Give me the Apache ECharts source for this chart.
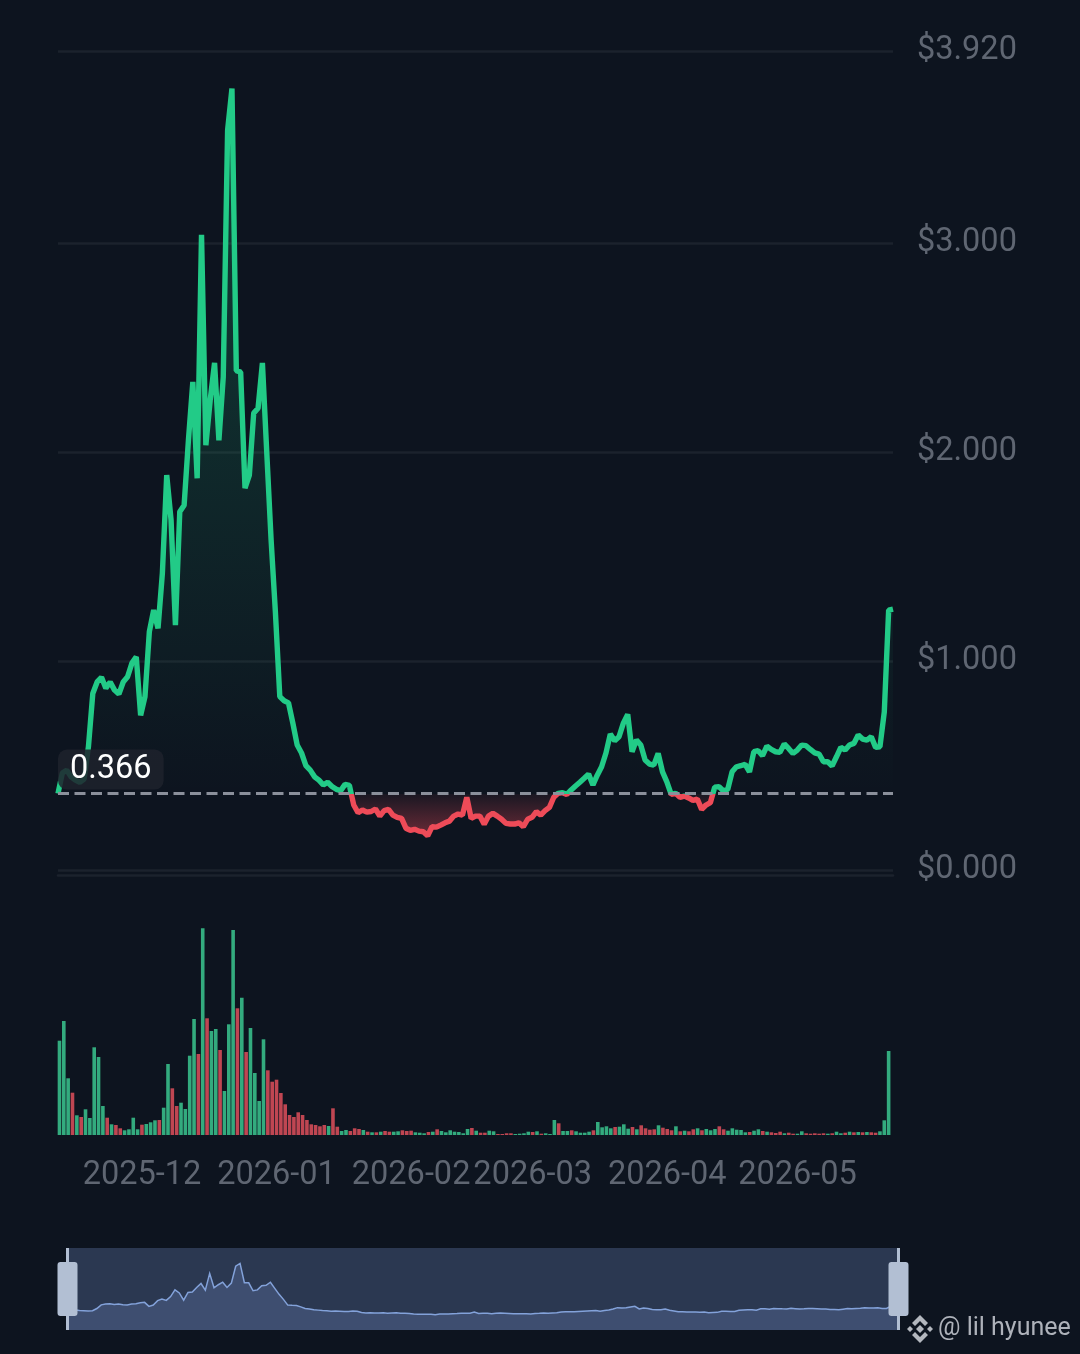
<!DOCTYPE html>
<html><head><meta charset="utf-8">
<style>html,body{margin:0;padding:0;background:#0d141f}#c{width:1080px;height:1354px}</style>
<script src="https://cdn.jsdelivr.net/npm/echarts@6/dist/echarts.min.js"></script>
</head><body><div id="c"></div>
<script>
const prices = [
.366,.464,.478,.446,.43,.42,.435,.59,.845,.90,
.922,.87,.90,.861,.842,.90,.925,.99,1.02,.74,
.83,1.14,1.244,1.157,1.42,1.89,1.675,1.172,1.715,1.746,
2.06,2.336,1.875,3.04,2.033,2.25,2.427,2.057,2.36,3.54,
3.74,2.39,2.383,1.828,1.89,2.187,2.21,2.427,2.0,1.58,
1.23,.83,.81,.80,.703,.598,.56,.50,.478,.446,
.43,.407,.42,.40,.386,.38,.41,.405,.311,.274,
.287,.277,.28,.292,.258,.284,.29,.263,.252,.247,
.2,.19,.195,.186,.183,.164,.207,.205,.215,.226,
.234,.258,.268,.263,.348,.247,.258,.258,.219,.258,
.271,.258,.243,.223,.22,.22,.226,.207,.243,.252,
.279,.263,.284,.30,.348,.367,.37,.362,.383,.402,
.42,.439,.459,.407,.454,.494,.56,.651,.619,.638,
.703,.745,.566,.622,.598,.526,.507,.502,.558,.47,
.422,.362,.367,.348,.354,.345,.333,.34,.29,.311,
.322,.396,.399,.378,.386,.47,.494,.499,.506,.47,
.566,.571,.547,.593,.577,.566,.563,.603,.582,.558,
.574,.598,.595,.577,.561,.555,.518,.518,.498,.542,
.587,.574,.598,.606,.646,.627,.622,.638,.587,.59,
.757,1.244,1.249];
const volumes = [
94.3,114,56.7,42.3,19.7,18,25.7,17,87.7,78,
29,17.3,10.7,10,6.7,4.7,5.7,17.3,5.7,10.3,
11,12.7,14.7,15,27.3,71,46.7,29,32.3,26,
79.3,116,81,206.7,116.7,104,106,85,44,110.7,
205,126.7,137.3,83,107,62,34,95.7,64.7,53.3,
55.3,42,30.7,20,18,22.7,20,15,10.7,10,
8.7,10,9,26.7,8.3,4,5,4,6.7,6,
5,3.3,2.7,2.7,3.3,4,3.3,3.3,3.7,4.7,
4,4.3,2.7,2.3,1.7,3,3.3,5.7,4,2.7,
4.7,3.3,3,1.7,6,7,4.3,2.3,2.3,4.3,
3.7,1,1,1.7,1.7,1,1.3,1.7,3.3,3,
3.7,1.3,1.7,1,15,11.7,4,4,4.7,3.7,
2.3,2.3,3.3,4.7,13,7.7,8.7,6.7,8,8.3,
10.7,6.3,8,5.7,9.7,6.7,5.3,5.7,9.7,7.3,
6,4.7,8.7,3.7,4.3,3.7,5.7,6.7,4.7,6,
4.7,6,8.7,5.7,4.3,6.7,5.3,5,2.7,3,
4.3,5.7,4,3.3,2.7,2,3.3,1.7,2.3,1.3,
1.3,3.7,1.7,1.3,1.7,1.3,1.7,1.3,1.7,3.3,
1.7,2.3,3.3,2.7,3,2.7,3,2.7,2.3,3.7,
14.7,84];
const volumeSides = (
"GGGRGRGGGG"+"GRGRRGGGGR"+"GGGRGGRRGG"+"GGRGRGGRGG"+
"GRGRGGGGRR"+"RRRRRRRRRR"+"RRGRRGGRRR"+"GRGRGRRGGR"+
"RRGGGRGRGG"+"GGGGGRGRRG"+"GRRRRGGGGR"+"GRGGGRGGRG"+
"GGGRGGGGRG"+"GGRGRRRRGR"+"RRGRGRRGRG"+"GGRRGGGGGR"+
"GGRGRRRGRR"+"GGRRRRRGRG"+"GRGRGRGRRG"+"GG").split("");
const baseline = 0.366;
const firstDay = Date.UTC(2025, 10, 12);
const dates = prices.map((_, i) => new Date(firstDay + i * 86400000).toISOString().slice(0, 10));

const UP = '#22cb87', DOWN = '#ee4b58', BG = '#0d141f', GRID = '#1b222d', MUTED = '#5f6672';
const handle = 'path://M3 14H17A3 3 0 0 1 20 17V65A3 3 0 0 1 17 68H11.5V82H8.5V68H3A3 3 0 0 1 0 65V17A3 3 0 0 1 3 14ZM8.5 14V0H11.5V14Z';
const logoParts = [
  [[15,1],[23,9],[20,12],[15,7],[10,12],[7,9]],
  [[15,29],[23,21],[20,18],[15,23],[10,18],[7,21]],
  [[15,11],[19,15],[15,19],[11,15]],
  [[5,12],[8,15],[5,18],[2,15]],
  [[25,12],[28,15],[25,18],[22,15]]
];

const chart = echarts.init(document.getElementById('c'));
chart.setOption({
  animation: false,
  backgroundColor: BG,
  textStyle: { fontFamily: 'Roboto' },
  grid: [
    { left: 58, width: 835, top: 51, height: 819 },
    { left: 57.3, width: 833.5, top: 928, height: 207 }
  ],
  xAxis: [
    { gridIndex: 0, type: 'category', data: dates, boundaryGap: false, offset: 5,
      axisLine: { show: true, onZero: false, lineStyle: { color: GRID, width: 2.5 } },
      axisTick: { show: false }, axisLabel: { show: false }, splitLine: { show: false } },
    { gridIndex: 1, type: 'category', data: dates.slice(0, volumes.length), boundaryGap: true,
      axisLine: { show: false }, axisTick: { show: false }, splitLine: { show: false },
      axisLabel: { color: MUTED, fontSize: 32.5, fontFamily: 'Roboto', margin: 24, hideOverlap: false,
        interval: (i, v) => v.endsWith('-01'), formatter: v => v.slice(0, 7) } }
  ],
  yAxis: [
    { gridIndex: 0, type: 'value', position: 'right', min: 0, max: 3.92, interval: 1,
      axisLine: { show: false }, axisTick: { show: false },
      splitLine: { show: true, lineStyle: { color: GRID, width: 2.5 } },
      axisLabel: { color: MUTED, fontSize: 32.5, fontFamily: 'Roboto', margin: 24, align: 'left',
        padding: [0, 0, 8, 0], formatter: v => '$' + v.toFixed(3) } },
    { gridIndex: 1, type: 'value', min: 0, max: 207, show: false }
  ],
  dataZoom: [{
    type: 'slider', xAxisIndex: [0, 1], start: 0, end: 100, left: 64, width: 833, top: 1248, height: 82,
    backgroundColor: '#2b3851', borderColor: 'transparent', fillerColor: 'rgba(0,0,0,0)',
    showDetail: false, showDataShadow: true, moveHandleSize: 0, brushSelect: false,
    handleIcon: handle, handleSize: 82, handleStyle: { color: '#b2bfd3', borderWidth: 0 },
    dataBackground: { lineStyle: { color: '#83a2da', width: 1.5, opacity: 1 }, areaStyle: { color: '#3e4e70', opacity: 1 } },
    selectedDataBackground: { lineStyle: { color: '#83a2da', width: 1.5, opacity: 1 }, areaStyle: { color: '#3e4e70', opacity: 1 } }
  }],
  series: [
    { id: 'price', type: 'line', xAxisIndex: 0, yAxisIndex: 0, data: prices, showSymbol: false, symbol: 'none',
      lineStyle: { width: 5.4, join: 'bevel', color: UP }, itemStyle: { color: UP }, clip: false,
      areaStyle: { origin: baseline, opacity: 1, color: 'rgba(34,203,135,0.12)' },
      markLine: { silent: true, symbol: 'none', animation: false, precision: 3,
        lineStyle: { color: '#8b909b', type: [11, 5.5], width: 2.8 },
        label: { show: true, position: 'insideStartTop', distance: [0, 4], formatter: '{c}', color: '#ffffff',
          fontSize: 32.5, fontFamily: 'Roboto', backgroundColor: 'rgba(30,34,45,0.85)', borderRadius: 9,
          padding: [3, 12, 3, 12], lineHeight: 34 },
        data: [{ yAxis: baseline }] } },
    { type: 'bar', xAxisIndex: 1, yAxisIndex: 1, barWidth: 3.6,
      data: volumes.map((v, i) => ({ value: v, itemStyle: { color: volumeSides[i] === 'G' ? '#33ab7e' : '#bf4652' } })) }
  ],
  graphic: [
    { type: 'group', x: 905, y: 1314, children: logoParts.map(points => ({
      type: 'polygon', shape: { points }, style: { fill: '#b4b8bf' } })) },
    { type: 'text', x: 938, y: 1316, style: { text: '@ lil hyunee', fill: '#aeb2ba', fontSize: 25, fontFamily: 'Roboto' } }
  ]
});

// Colour the line and the area either side of the baseline, placed through the chart's own y scale.
const toY = v => chart.convertToPixel({ yAxisIndex: 0 }, v);
const yBase = toY(baseline), yTop = toY(Math.max(...prices)), yLow = toY(Math.min(...prices));
const split = (yBase - yTop) / (yLow - yTop);
chart.setOption({ series: [{ id: 'price',
  lineStyle: { color: { type: 'linear', global: true, x: 0, y: yBase - 1, x2: 0, y2: yBase + 1, colorStops: [
    { offset: 0, color: UP }, { offset: 0.5, color: UP }, { offset: 0.5, color: DOWN }, { offset: 1, color: DOWN }] } },
  areaStyle: { color: { type: 'linear', global: true, x: 0, y: yTop, x2: 0, y2: yLow, colorStops: [
    { offset: 0, color: 'rgba(34,203,135,0.24)' },
    { offset: split, color: 'rgba(34,203,135,0.0)' },
    { offset: split, color: 'rgba(238,75,88,0.05)' },
    { offset: 1, color: 'rgba(238,75,88,0.42)' }] } }
}] });
</script></body></html>
